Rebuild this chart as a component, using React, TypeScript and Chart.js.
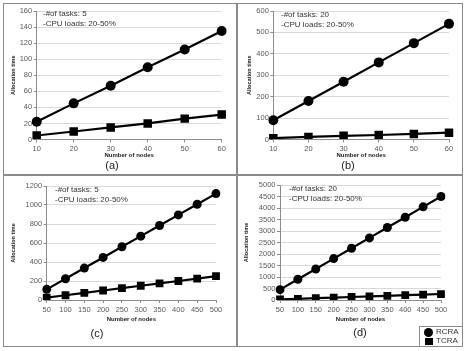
import React, { useEffect, useRef } from 'react';
import { Chart, registerables } from 'chart.js';

Chart.register(...registerables);

// ---- data ----
const nodesSmall = ['10', '20', '30', '40', '50', '60'];
const nodesLarge = ['50', '100', '150', '200', '250', '300', '350', '400', '450', '500'];

const rcraA = [22, 45, 67, 90, 112, 135];
const tcraA = [5, 10, 15, 20, 26, 31];

const rcraB = [90, 180, 270, 360, 450, 540];
const tcraB = [6, 12, 17, 21, 26, 32];

const rcraC = [112, 224, 336, 448, 560, 672, 784, 896, 1008, 1120];
const tcraC = [25, 50, 75, 100, 125, 150, 175, 200, 225, 252];

const rcraD = [450, 900, 1350, 1800, 2250, 2700, 3150, 3600, 4050, 4500];
const tcraD = [26, 52, 78, 104, 130, 156, 182, 208, 234, 260];

const yMaxA = 160, yStepA = 20;
const yMaxB = 600, yStepB = 100;
const yMaxC = 1200, yStepC = 200;
const yMaxD = 5000, yStepD = 500;

const seriesNames = ['RCRA', 'TCRA'];
const xTitle = 'Number of nodes';
const yTitle = 'Allocation time';

const FONT = "'Liberation Sans', Arial, sans-serif";
const AXIS = '#8c8c8c';

type PanelSpec = {
  labels: string[];
  rcra: number[];
  tcra: number[];
  yMax: number;
  yStep: number;
  tasks: string;
  tag: string;
  box: { x: number; y: number; w: number; h: number };
  area: { l: number; r: number; t: number; b: number };
  yTitleX: number;
  xTitleY: number;
  note: { x: number; y: number };
  tagPos: { x: number; y: number };
  rCircle: number;
  rRect: number;
};

const panels: PanelSpec[] = [
  {
    labels: nodesSmall, rcra: rcraA, tcra: tcraA, yMax: yMaxA, yStep: yStepA, tasks: '5', tag: '(a)',
    box: { x: 3, y: 3, w: 234, h: 172 },
    area: { l: 36.7, r: 221.7, t: 11, b: 139.5 },
    yTitleX: 13, xTitleY: 155.5,
    note: { x: 43, y: 9 }, tagPos: { x: 112, y: 165 },
    rCircle: 5, rRect: 6,
  },
  {
    labels: nodesSmall, rcra: rcraB, tcra: tcraB, yMax: yMaxB, yStep: yStepB, tasks: '20', tag: '(b)',
    box: { x: 237, y: 3, w: 226, h: 172 },
    area: { l: 273.3, r: 449, t: 11, b: 139.5 },
    yTitleX: 249, xTitleY: 155.5,
    note: { x: 281, y: 10 }, tagPos: { x: 348, y: 165 },
    rCircle: 5, rRect: 6,
  },
  {
    labels: nodesLarge, rcra: rcraC, tcra: tcraC, yMax: yMaxC, yStep: yStepC, tasks: '5', tag: '(c)',
    box: { x: 3, y: 175, w: 234, h: 172 },
    area: { l: 46.7, r: 216, t: 186, b: 300 },
    yTitleX: 13, xTitleY: 319,
    note: { x: 55, y: 185 }, tagPos: { x: 97, y: 333 },
    rCircle: 4.5, rRect: 5.5,
  },
  {
    labels: nodesLarge, rcra: rcraD, tcra: tcraD, yMax: yMaxD, yStep: yStepD, tasks: '20', tag: '(d)',
    box: { x: 237, y: 175, w: 226, h: 172 },
    area: { l: 280, r: 441, t: 185, b: 300 },
    yTitleX: 246, xTitleY: 319,
    note: { x: 289, y: 184 }, tagPos: { x: 360, y: 332 },
    rCircle: 4.5, rRect: 5.5,
  },
];

const Y_TITLE_SIZE = 5.5;
const X_TITLE_SIZE = 6;
const TICK_SIZE = 7.5;

function Panel({ p }: { p: PanelSpec }) {
  const ref = useRef<HTMLCanvasElement | null>(null);
  useEffect(() => {
    if (!ref.current) return;
    const lhY = Y_TITLE_SIZE * 1.2;
    const lhX = X_TITLE_SIZE * 1.2;
    const padLeft = p.yTitleX - p.box.x - lhY / 2;
    const yW = p.area.l - p.box.x - padLeft;
    const padTop = p.area.t - p.box.y;
    const padRight = p.box.x + p.box.w - p.area.r;
    const xH = p.xTitleY - p.area.b + lhX / 2;
    const padBottom = p.box.y + p.box.h - p.area.b - xH;

    const chart = new Chart(ref.current, {
      type: 'line',
      data: {
        labels: p.labels,
        datasets: [
          {
            label: seriesNames[0], data: p.rcra, borderColor: '#000', backgroundColor: '#000',
            borderWidth: 2.2, pointStyle: 'circle', pointRadius: p.rCircle, pointBorderWidth: 0,
            pointBackgroundColor: '#000', tension: 0,
          },
          {
            label: seriesNames[1], data: p.tcra, borderColor: '#000', backgroundColor: '#000',
            borderWidth: 2.2, pointStyle: 'rect', pointRadius: p.rRect, pointBorderWidth: 0,
            pointBackgroundColor: '#000', tension: 0,
          },
        ],
      },
      options: {
        animation: false,
        responsive: false,
        maintainAspectRatio: false,
        devicePixelRatio: 1,
        layout: { padding: { left: padLeft, top: padTop, right: padRight, bottom: padBottom } },
        plugins: { legend: { display: false }, tooltip: { enabled: false } },
        scales: {
          x: {
            type: 'category',
            offset: false,
            grid: { display: true, drawOnChartArea: false, drawTicks: true, tickLength: 3, color: AXIS },
            border: { color: AXIS, z: 1 },
            ticks: { font: { family: FONT, size: TICK_SIZE }, color: '#595959', padding: 2, maxRotation: 0, autoSkip: false },
            title: { display: true, text: xTitle, font: { family: FONT, size: X_TITLE_SIZE, weight: 'bold' }, color: '#222', padding: 0 },
            afterFit: (s: any) => { s.height = xH; },
          },
          y: {
            min: 0,
            max: p.yMax,
            ticks: {
              stepSize: p.yStep, font: { family: FONT, size: TICK_SIZE }, color: '#595959', padding: 1.5,
              autoSkip: false,
              callback: (v: any) => String(v),
            },
            grid: { color: '#d9d9d9', tickLength: 3, tickColor: AXIS },
            border: { color: AXIS },
            title: { display: true, text: yTitle, font: { family: FONT, size: Y_TITLE_SIZE, weight: 'bold' }, color: '#222', padding: 0 },
            afterFit: (s: any) => { s.width = yW; },
          },
        },
      },
    } as any);
    return () => chart.destroy();
  }, [p]);

  return (
    <>
      <canvas
        ref={ref}
        width={p.box.w}
        height={p.box.h}
        style={{ position: 'absolute', left: p.box.x, top: p.box.y, width: p.box.w, height: p.box.h }}
      />
      <div style={{ position: 'absolute', left: p.note.x, top: p.note.y, font: `8px ${FONT}`, color: '#333', lineHeight: '10px', whiteSpace: 'nowrap' }}>
        <div>-#of tasks: {p.tasks}</div>
        <div>-CPU loads: 20-50%</div>
      </div>
      <div style={{ position: 'absolute', left: p.tagPos.x - 20, width: 40, top: p.tagPos.y - 7, textAlign: 'center', font: `11px ${FONT}`, color: '#222', lineHeight: '14px' }}>
        {p.tag}
      </div>
      <div style={{ position: 'absolute', left: p.box.x, top: p.box.y, width: p.box.w, height: p.box.h, boxSizing: 'border-box', border: '1px solid #8a8a8a', pointerEvents: 'none' }} />
    </>
  );
}

export default function App() {
  return (
    <div style={{ position: 'fixed', left: 0, top: 0, width: 474, height: 351, background: '#fff', overflow: 'hidden' }}>
      {panels.map((p) => <Panel key={p.tag} p={p} />)}
      <div style={{ position: 'absolute', left: 419, top: 326, width: 44, height: 21, boxSizing: 'border-box', border: '1px solid #8a8a8a', background: '#fff' }}>
        <div style={{ position: 'absolute', left: 4, top: 1, width: 9, height: 9, borderRadius: '50%', background: '#000' }} />
        <div style={{ position: 'absolute', left: 16, top: 0, font: `8px ${FONT}`, color: '#333', lineHeight: '10px' }}>{seriesNames[0]}</div>
        <div style={{ position: 'absolute', left: 5, top: 11, width: 8, height: 7, background: '#000' }} />
        <div style={{ position: 'absolute', left: 16, top: 9, font: `8px ${FONT}`, color: '#333', lineHeight: '10px' }}>{seriesNames[1]}</div>
      </div>
    </div>
  );
}
